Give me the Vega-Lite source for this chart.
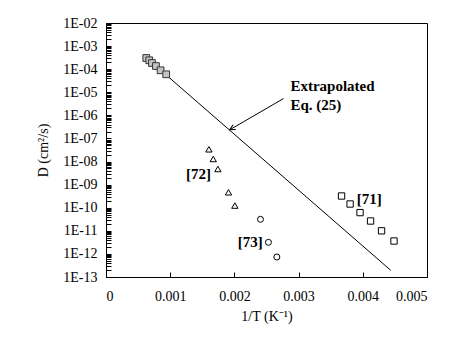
{
  "$schema": "https://vega.github.io/schema/vega-lite/v6.json",
  "width": 321,
  "height": 254,
  "autosize": {"type": "none"},
  "padding": {"left": 106, "top": 23, "right": 47, "bottom": 77},
  "background": "white",
  "config": {
    "view": {"stroke": "black", "strokeWidth": 1},
    "font": "Liberation Serif",
    "axis": {"grid": false, "domainColor": "black", "tickColor": "black", "labelColor": "black", "titleColor": "black", "labelFont": "Liberation Serif", "titleFont": "Liberation Serif", "labelFontSize": 14, "titleFontSize": 14, "titleFontWeight": "normal"}
  },
  "datasets": {
    "line": [{"x": 0.000974, "y": 4.58e-5}, {"x": 0.004435, "y": 1.95e-13}],
    "pts": [
      {"s": "A", "x": 0.000627, "y": 3.05e-4},
      {"s": "A", "x": 0.000674, "y": 2.43e-4},
      {"s": "A", "x": 0.000716, "y": 1.85e-4},
      {"s": "A", "x": 0.000778, "y": 1.37e-4},
      {"s": "A", "x": 0.00085, "y": 8.95e-5},
      {"s": "A", "x": 0.000938, "y": 6.0e-5},
      {"s": "T", "x": 0.001603, "y": 3.39e-8},
      {"s": "T", "x": 0.00167, "y": 1.29e-8},
      {"s": "T", "x": 0.001743, "y": 4.75e-9},
      {"s": "T", "x": 0.001908, "y": 4.66e-10},
      {"s": "T", "x": 0.002007, "y": 1.24e-10},
      {"s": "C", "x": 0.002406, "y": 3.15e-11},
      {"s": "C", "x": 0.00253, "y": 3.18e-12},
      {"s": "C", "x": 0.002661, "y": 7.34e-13},
      {"s": "B", "x": 0.003669, "y": 3.22e-10},
      {"s": "B", "x": 0.003802, "y": 1.45e-10},
      {"s": "B", "x": 0.003957, "y": 6.15e-11},
      {"s": "B", "x": 0.004121, "y": 2.66e-11},
      {"s": "B", "x": 0.004292, "y": 1.0e-11},
      {"s": "B", "x": 0.004486, "y": 3.62e-12}
    ],
    "labels": [
      {"x": 0.00144, "y": 3.0e-9, "t": "[72]"},
      {"x": 0.002246, "y": 3.2e-12, "t": "[73]"},
      {"x": 0.004102, "y": 2.48e-10, "t": "[71]"}
    ],
    "note": [
      {"x": 0.002873, "y": 1.81e-5, "t": "Extrapolated"},
      {"x": 0.002873, "y": 2.73e-6, "t": "Eq. (25)"}
    ],
    "arrow": [{"x": 0.002764, "y": 5.32e-6, "x2": 0.001927, "y2": 2.37e-7}]
  },
  "layer": [
    {
      "data": {"name": "line"},
      "mark": {"type": "line", "color": "black", "strokeWidth": 1},
      "encoding": {
        "x": {"field": "x", "type": "quantitative",
          "scale": {"domain": [0, 0.005], "nice": false},
          "axis": {"values": [0, 0.001, 0.002, 0.003, 0.004, 0.005], "format": ".3~f", "tickSize": -5, "labelPadding": 17, "title": "1/T (K⁻¹)", "titlePadding": 6}},
        "y": {"field": "y", "type": "quantitative",
          "scale": {"type": "log", "domain": [1e-13, 1e-2], "nice": false},
          "axis": {
            "values": [1e-13,2e-13,3e-13,4e-13,5e-13,6e-13,7e-13,8e-13,9e-13,
                       1e-12,2e-12,3e-12,4e-12,5e-12,6e-12,7e-12,8e-12,9e-12,
                       1e-11,2e-11,3e-11,4e-11,5e-11,6e-11,7e-11,8e-11,9e-11,
                       1e-10,2e-10,3e-10,4e-10,5e-10,6e-10,7e-10,8e-10,9e-10,
                       1e-9,2e-9,3e-9,4e-9,5e-9,6e-9,7e-9,8e-9,9e-9,
                       1e-8,2e-8,3e-8,4e-8,5e-8,6e-8,7e-8,8e-8,9e-8,
                       1e-7,2e-7,3e-7,4e-7,5e-7,6e-7,7e-7,8e-7,9e-7,
                       1e-6,2e-6,3e-6,4e-6,5e-6,6e-6,7e-6,8e-6,9e-6,
                       1e-5,2e-5,3e-5,4e-5,5e-5,6e-5,7e-5,8e-5,9e-5,
                       1e-4,2e-4,3e-4,4e-4,5e-4,6e-4,7e-4,8e-4,9e-4,
                       1e-3,2e-3,3e-3,4e-3,5e-3,6e-3,7e-3,8e-3,9e-3,
                       1e-2],
            "labelExpr": "abs(log(datum.value)/LN10 - round(log(datum.value)/LN10)) < 0.001 ? ('1E-' + (-round(log(datum.value)/LN10) < 10 ? '0' : '') + (-round(log(datum.value)/LN10))) : ''",
            "labelOverlap": false,
            "tickSize": -5,
            "labelPadding": 14,
            "title": "D (cm²/s)",
            "titlePadding": 12
          }}
      }
    },
    {
      "data": {"name": "pts"},
      "transform": [{"filter": "datum.s == 'A'"}],
      "mark": {"type": "point", "shape": "square", "filled": true, "fill": "#c4c4c4", "stroke": "#333333", "strokeWidth": 1, "size": 45, "opacity": 1},
      "encoding": {"x": {"field": "x", "type": "quantitative"}, "y": {"field": "y", "type": "quantitative"}}
    },
    {
      "data": {"name": "pts"},
      "transform": [{"filter": "datum.s == 'B'"}],
      "mark": {"type": "point", "shape": "square", "filled": true, "fill": "white", "stroke": "black", "strokeWidth": 1, "size": 40, "opacity": 1},
      "encoding": {"x": {"field": "x", "type": "quantitative"}, "y": {"field": "y", "type": "quantitative"}}
    },
    {
      "data": {"name": "pts"},
      "transform": [{"filter": "datum.s == 'T'"}],
      "mark": {"type": "point", "shape": "triangle-up", "filled": true, "fill": "white", "stroke": "black", "strokeWidth": 1, "size": 40, "opacity": 1},
      "encoding": {"x": {"field": "x", "type": "quantitative"}, "y": {"field": "y", "type": "quantitative"}}
    },
    {
      "data": {"name": "pts"},
      "transform": [{"filter": "datum.s == 'C'"}],
      "mark": {"type": "point", "shape": "circle", "filled": true, "fill": "white", "stroke": "black", "strokeWidth": 1, "size": 36, "opacity": 1},
      "encoding": {"x": {"field": "x", "type": "quantitative"}, "y": {"field": "y", "type": "quantitative"}}
    },
    {
      "data": {"name": "arrow"},
      "mark": {"type": "rule", "color": "black", "strokeWidth": 1},
      "encoding": {"x": {"field": "x", "type": "quantitative"}, "y": {"field": "y", "type": "quantitative"}, "x2": {"field": "x2"}, "y2": {"field": "y2"}}
    },
    {
      "data": {"name": "arrow"},
      "mark": {"type": "point", "shape": "M-0.5,1L0,0L0.5,1", "filled": false, "stroke": "black", "strokeWidth": 1, "size": 120, "angle": 240, "opacity": 1},
      "encoding": {"x": {"field": "x2", "type": "quantitative"}, "y": {"field": "y2", "type": "quantitative"}}
    },
    {
      "data": {"name": "labels"},
      "mark": {"type": "text", "font": "Liberation Serif", "fontWeight": "bold", "fontSize": 15, "color": "black", "baseline": "middle", "align": "center"},
      "encoding": {
        "x": {"field": "x", "type": "quantitative"},
        "y": {"field": "y", "type": "quantitative"},
        "text": {"field": "t"}
      }
    },
    {
      "data": {"name": "note"},
      "mark": {"type": "text", "font": "Liberation Serif", "fontWeight": "bold", "fontSize": 15, "color": "black", "baseline": "middle", "align": "left"},
      "encoding": {
        "x": {"field": "x", "type": "quantitative"},
        "y": {"field": "y", "type": "quantitative"},
        "text": {"field": "t"}
      }
    }
  ]
}
